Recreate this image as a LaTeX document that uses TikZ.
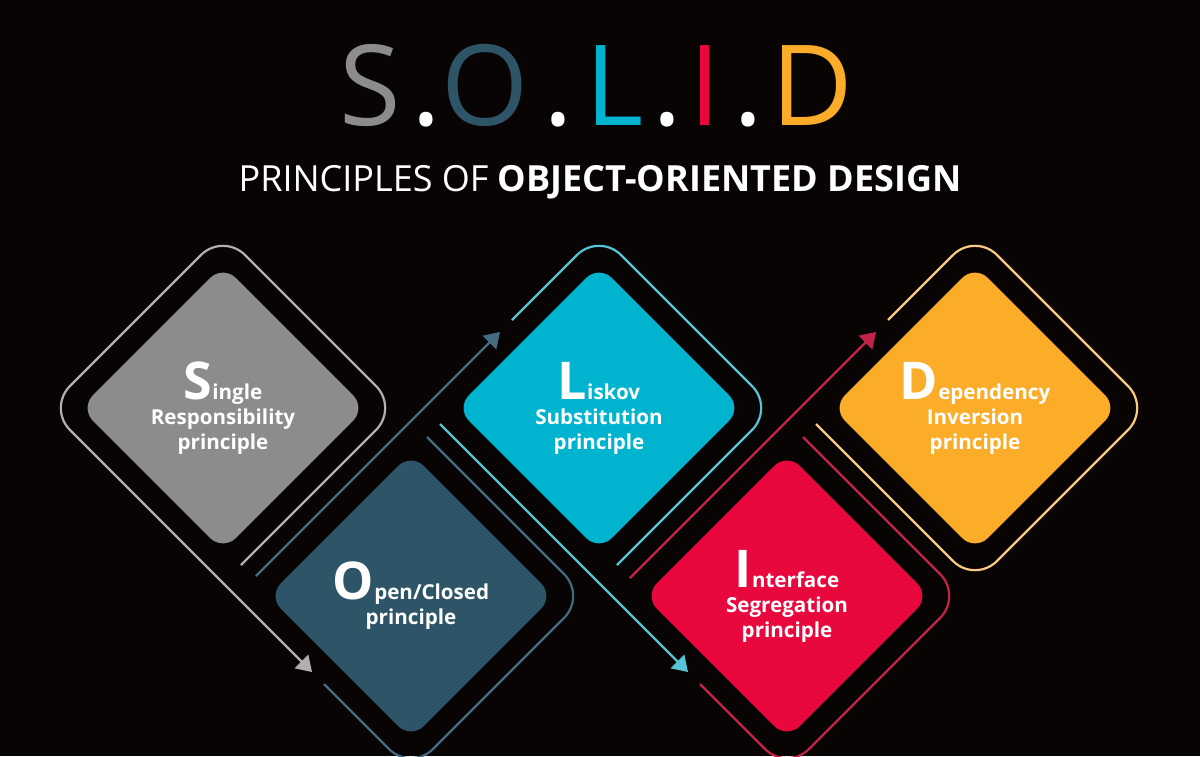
\documentclass[tikz,border=0pt]{standalone}
\usepackage{fontspec}
\setmainfont{Open Sans}
\usetikzlibrary{calc,shapes.geometric,arrows.meta}

\definecolor{bg}{RGB}{9,4,4}
\definecolor{sfill}{RGB}{140,140,140}
\definecolor{sline}{RGB}{176,176,176}
\definecolor{ofill}{RGB}{46,84,104}
\definecolor{oline}{RGB}{66,108,130}
\definecolor{lfill}{RGB}{0,180,208}
\definecolor{lline}{RGB}{84,196,214}
\definecolor{ifill}{RGB}{232,8,62}
\definecolor{iline}{RGB}{196,34,72}
\definecolor{dfill}{RGB}{251,172,40}
\definecolor{dline}{RGB}{250,202,132}

\tikzstyle{tile} = [diamond, aspect=1, minimum size=143pt, inner sep=0pt, rounded corners=9pt, text=white, align=center, font=\bfseries\fontsize{10.3}{12.5}\selectfont]
\tikzstyle{track} = [line width=1.1pt, rounded corners=15.5pt]
\tikzstyle{flow} = [line width=1.1pt, -{Triangle[length=7.5pt, width=9.5pt]}]
\tikzstyle{letter} = [anchor=base, inner sep=0pt, font=\fontsize{56}{60}\selectfont]

\newcommand{\firstletter}[1]{{\fontsize{26}{12.5}\selectfont #1}}

\begin{document}
\begin{tikzpicture}[x=0.5pt, y=-0.5pt]

            \useasboundingbox (0,0) rectangle (1200,756);
            \fill [bg] (0,0) rectangle (1200,756);

            %% title

            \node (tS) [letter, sfill] at (370,125) {S};
            \node (d1) [letter, white] at (426,125) {.};
            \node (tO) [letter, ofill] at (485,125) {O};
            \node (d2) [letter, white] at (558,125) {.};
            \node (tL) [letter, lfill] at (615,125) {L};
            \node (d3) [letter, white] at (667,125) {.};
            \node (tI) [letter, ifill] at (705,125) {I};
            \node (d4) [letter, white] at (748,125) {.};
            \node (tD) [letter, dfill] at (812,125) {D};

            \node (sub) [anchor=base, white, font=\fontsize{18}{20}\selectfont] at (600,191) {PRINCIPLES OF \textbf{OBJECT-ORIENTED DESIGN}};

            %% tiles

            \node (srp) [tile, fill=sfill] at (223,408) {\firstletter{S}ingle\\Responsibility\\principle};
            \node (ocp) [tile, fill=ofill] at (411,596) {\firstletter{O}pen/Closed\\principle};
            \node (lsp) [tile, fill=lfill] at (599,408) {\firstletter{L}iskov\\Substitution\\principle};
            \node (isp) [tile, fill=ifill] at (787,596) {\firstletter{I}nterface\\Segregation\\principle};
            \node (dip) [tile, fill=dfill] at (975,408) {\firstletter{D}ependency\\Inversion\\principle};

            %% tracks and arrows

            \draw [track, flow, sline] ($(srp)+(18,157)$) -- ($(srp)+(175,0)$) -- ($(srp)+(0,-175)$) -- ($(srp)+(-175,0)$) -- ($(ocp)+(-99,76)$);

            \draw [track, oline] ($(ocp)+(-87,88)$) -- ($(ocp)+(0,175)$) -- ($(ocp)+(175,0)$) -- ($(ocp)+(16,-159)$);
            \draw [flow, oline] ($(ocp)+(-155,-20)$) -- ($(lsp)+(-99,-76)$);

            \draw [track, lline] ($(lsp)+(-87,-88)$) -- ($(lsp)+(0,-175)$) -- ($(lsp)+(175,0)$) -- ($(lsp)+(18,157)$);
            \draw [flow, lline] ($(lsp)+(-159,16)$) -- ($(isp)+(-99,76)$);

            \draw [track, iline] ($(isp)+(-87,88)$) -- ($(isp)+(0,175)$) -- ($(isp)+(175,0)$) -- ($(isp)+(16,-159)$);
            \draw [flow, iline] ($(isp)+(-157,-18)$) -- ($(dip)+(-99,-76)$);

            \draw [track, dline] ($(dip)+(-87,-88)$) -- ($(dip)+(0,-175)$) -- ($(dip)+(175,0)$) -- ($(dip)+(0,175)$) -- ($(dip)+(-159,16)$);

\end{tikzpicture}
\end{document}
